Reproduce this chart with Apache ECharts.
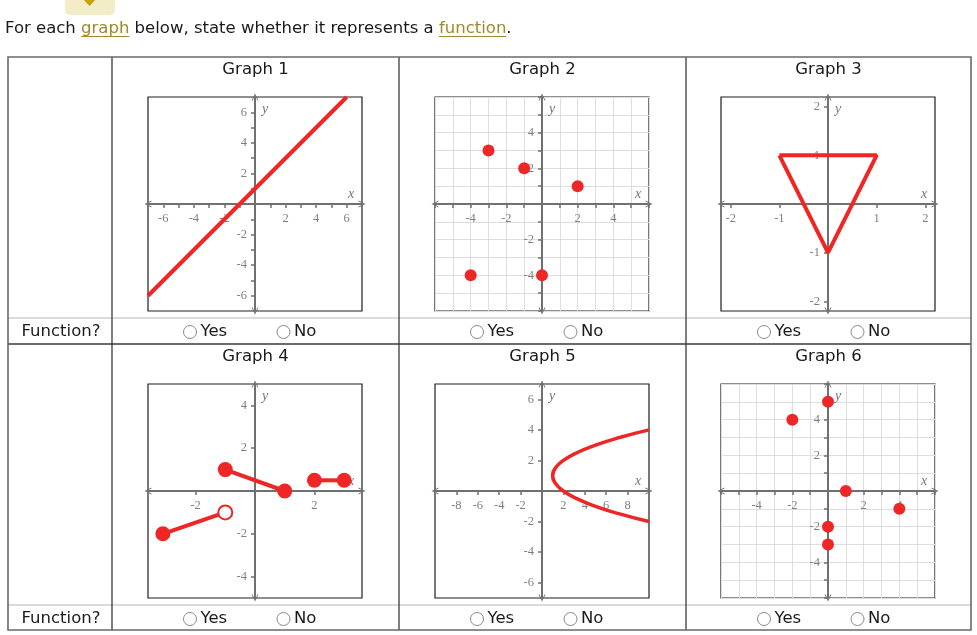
<!DOCTYPE html>
<html>
<head>
<meta charset="utf-8">
<script src="https://cdn.jsdelivr.net/npm/echarts@6/dist/echarts.min.js"></script>
<style>
html,body{margin:0;padding:0;background:#fff;}
#chart{width:977px;height:635px;}
</style>
</head>
<body>
<div id="chart"></div>
<script>
// ---------- data ----------
const graphTitles = ['Graph 1', 'Graph 2', 'Graph 3', 'Graph 4', 'Graph 5', 'Graph 6'];
const rowLabel = 'Function?';
const choiceLabels = ['Yes', 'No'];
const introParts = [
  { text: 'For each ', link: false },
  { text: 'graph', link: true },
  { text: ' below, state whether it represents a ', link: false },
  { text: 'function', link: true },
  { text: '.', link: false }
];

// Graph 1: straight line
const g1Line = [[-7, -6], [6, 7]];
// Graph 2: points
const g2Points = [[-3, 3], [-1, 2], [2, 1], [-4, -4], [0, -4]];
// Graph 3: triangle
const g3Triangle = [[-1, 1], [1, 1], [0, -1], [-1, 1]];
// Graph 4: segments with endpoints
const g4Seg1 = [[-3.1, -2], [-1, -1]];
const g4Seg2 = [[-1, 1], [1, 0]];
const g4Seg3 = [[2, 0.5], [3, 0.5]];
const g4Closed = [[-3.1, -2], [-1, 1], [1, 0], [2, 0.5], [3, 0.5]];
const g4Open = [[-1, -1]];
// Graph 5: sideways parabola (x read at each y)
const g5Y = [-2, -1.5, -1, -0.5, 0, 0.5, 1, 1.5, 2, 2.5, 3, 3.5, 4];
const g5X = [10, 7.25, 5, 3.25, 2, 1.25, 1, 1.25, 2, 3.25, 5, 7.25, 10];
// Graph 6: points
const g6Points = [[0, 5], [-2, 4], [1, 0], [4, -1], [0, -2], [0, -3]];

// axis ranges and ticks (all ranges symmetric about 0)
const g1Range = [-7, 7];
const g1Ticks = [-6, -5, -4, -3, -2, -1, 1, 2, 3, 4, 5, 6];
const g1Labels = [-6, -4, -2, 2, 4, 6];
const gridRange = [-6, 6];
const gridTicks = [-6, -5, -4, -3, -2, -1, 0, 1, 2, 3, 4, 5, 6];
const gridLabels = [-4, -2, 2, 4];
const g3Range = [-2.2, 2.2];
const g3Ticks = [-2, -1, 1, 2];
const g4XRange = [-3.6, 3.6];
const g4XTicks = [-2, 2];
const g4YRange = [-5, 5];
const g4YTicks = [-4, -2, 2, 4];
const g5XRange = [-10, 10];
const g5XTicks = [-8, -6, -4, -2, 2, 4, 6, 8];
const g5YRange = [-7, 7];
const g5YTicks = [-6, -4, -2, 2, 4, 6];

// ---------- styling ----------
const RED = '#ee2626';
const AX = '#707070';
const LINK = '#9c8a2c';
const FONT = '"DejaVu Sans", Verdana, sans-serif';
const FS = '16.5px ';
const chev = 'path://M0,10 L5,0 L10,10 L8.6,10 L5,2.8 L1.4,10 Z';

const gridLefts = [148, 435, 721];
const gridTops = [97, 384];
const GS = 214;

const grids = [];
for (let r = 0; r < 2; r++) for (let c = 0; c < 3; c++) {
  grids.push({ left: gridLefts[c], top: gridTops[r], width: GS, height: GS,
    show: true, borderColor: '#1e1e1e', borderWidth: 1.2, backgroundColor: '#fff', containLabel: false });
}

function axis(dim, gi, range, ticks, labels, split) {
  const isX = dim === 'x';
  return {
    type: 'value', gridIndex: gi, min: range[0], max: range[1],
    position: isX ? 'bottom' : 'left',
    offset: -GS / 2,   // symmetric ranges: the zero line is the grid's centre
    name: dim,
    nameLocation: 'end',
    nameGap: isX ? -11 : -12,
    nameTextStyle: isX
      ? { fontFamily: 'Liberation Serif', fontStyle: 'italic', fontSize: 14, color: '#777', align: 'center', verticalAlign: 'bottom', padding: [0, 0, 3, 0] }
      : { fontFamily: 'Liberation Serif', fontStyle: 'italic', fontSize: 14, color: '#777', align: 'left', verticalAlign: 'middle', padding: [0, 0, 0, 7] },
    axisLine: { show: true, onZero: false, symbol: [chev, chev], symbolSize: [9, 7], lineStyle: { color: AX, width: 2 } },
    axisTick: { show: true, customValues: ticks, length: 4, lineStyle: { color: AX, width: 1.5 } },
    axisLabel: { customValues: labels, fontFamily: 'Liberation Serif', fontSize: 12.5, color: '#808080', margin: 8 },
    splitLine: { show: !!split, lineStyle: { color: '#dedede', width: 1 } }
  };
}

const xAxes = [
  axis('x', 0, g1Range, g1Ticks, g1Labels),
  axis('x', 1, gridRange, gridTicks, gridLabels, true),
  axis('x', 2, g3Range, g3Ticks, g3Ticks),
  axis('x', 3, g4XRange, g4XTicks, g4XTicks),
  axis('x', 4, g5XRange, g5XTicks, g5XTicks),
  axis('x', 5, gridRange, gridTicks, gridLabels, true)
];
const yAxes = [
  axis('y', 0, g1Range, g1Ticks, g1Labels),
  axis('y', 1, gridRange, gridTicks, gridLabels, true),
  axis('y', 2, g3Range, g3Ticks, g3Ticks),
  axis('y', 3, g4YRange, g4YTicks, g4YTicks),
  axis('y', 4, g5YRange, g5YTicks, g5YTicks),
  axis('y', 5, gridRange, gridTicks, gridLabels, true)
];

function line(i, data, w, extra) {
  return Object.assign({ type: 'line', xAxisIndex: i, yAxisIndex: i, data: data, symbol: 'none',
    lineStyle: { color: RED, width: w }, clip: true, z: 3, silent: true }, extra || {});
}
function dots(i, data, size, open) {
  return { type: 'scatter', xAxisIndex: i, yAxisIndex: i, data: data, symbolSize: size, z: 4, silent: true,
    itemStyle: open ? { color: '#fff', borderColor: RED, borderWidth: 2, opacity: 1 } : { color: RED, opacity: 1 } };
}

const series = [
  line(0, g1Line, 4),
  dots(1, g2Points, 12),
  line(2, g3Triangle, 4),
  line(3, g4Seg1, 4), line(3, g4Seg2, 4), line(3, g4Seg3, 4),
  dots(3, g4Closed, 15), dots(3, g4Open, 14, true),
  line(4, g5X.map((x, k) => [x, g5Y[k]]), 3.5, { smooth: true }),
  dots(5, g6Points, 12)
];

// ---------- table / text graphics ----------
const g = [];
// top tab
g.push({ type: 'rect', shape: { x: 65, y: -10, width: 50, height: 25, r: 5 }, style: { fill: '#f2edc6' } });
g.push({ type: 'polygon', shape: { points: [[83, -1], [96, -1], [89.5, 6]] }, style: { fill: '#c8a300' } });

// intro line
const mc = document.createElement('canvas').getContext('2d');
mc.font = FS + FONT;
let tx = 5;
introParts.forEach(p => {
  const w = mc.measureText(p.text).width;
  g.push({ type: 'text', x: tx, y: 29, style: { text: p.text, font: FS + FONT, fill: p.link ? LINK : '#1a1a1a', align: 'left', verticalAlign: 'middle' } });
  if (p.link) g.push({ type: 'line', shape: { x1: tx, y1: 36.5, x2: tx + w, y2: 36.5 }, style: { stroke: LINK, lineWidth: 1 } });
  tx += w;
});

// table lines
const colX = [8, 112, 399, 686, 971];
const T = 57, B = 630;
[318, 605].forEach(y => g.push({ type: 'line', shape: { x1: 8, y1: y, x2: 971, y2: y }, style: { stroke: '#cfcfcf', lineWidth: 1.5 } }));
g.push({ type: 'line', shape: { x1: 8, y1: 344, x2: 971, y2: 344 }, style: { stroke: '#3a3a3a', lineWidth: 1.3 } });
colX.slice(1, 4).forEach(x => g.push({ type: 'line', shape: { x1: x, y1: T, x2: x, y2: B }, style: { stroke: '#3a3a3a', lineWidth: 1.3 } }));
g.push({ type: 'rect', shape: { x: 8, y: T, width: 963, height: B - T }, style: { fill: 'none', stroke: '#6a6a6a', lineWidth: 1.6 } });

// headers, function rows, radio buttons
const headerY = [70, 357];
const funcY = [332, 619];
for (let r = 0; r < 2; r++) {
  for (let c = 0; c < 3; c++) {
    const cx = (colX[c + 1] + colX[c + 2]) / 2;
    g.push({ type: 'text', x: cx, y: headerY[r], style: { text: graphTitles[r * 3 + c], font: FS + FONT, fill: '#1a1a1a', align: 'center', verticalAlign: 'middle' } });
    const base = 190 + 287 * c;
    [0, 93.5].forEach((dx, k) => {
      g.push({ type: 'circle', shape: { cx: base + dx, cy: funcY[r], r: 6.5 }, style: { fill: '#fff', stroke: '#8a8a8a', lineWidth: 1 } });
      g.push({ type: 'text', x: base + dx + 10.5, y: funcY[r], style: { text: choiceLabels[k], font: FS + FONT, fill: '#1a1a1a', align: 'left', verticalAlign: 'middle' } });
    });
  }
  g.push({ type: 'text', x: 21.5, y: funcY[r], style: { text: rowLabel, font: FS + FONT, fill: '#1a1a1a', align: 'left', verticalAlign: 'middle' } });
}

const chart = echarts.init(document.getElementById('chart'), null, { renderer: 'canvas' });
chart.setOption({
  animation: false,
  backgroundColor: '#fff',
  grid: grids,
  xAxis: xAxes,
  yAxis: yAxes,
  series: series,
  graphic: g
});
</script>
</body>
</html>
